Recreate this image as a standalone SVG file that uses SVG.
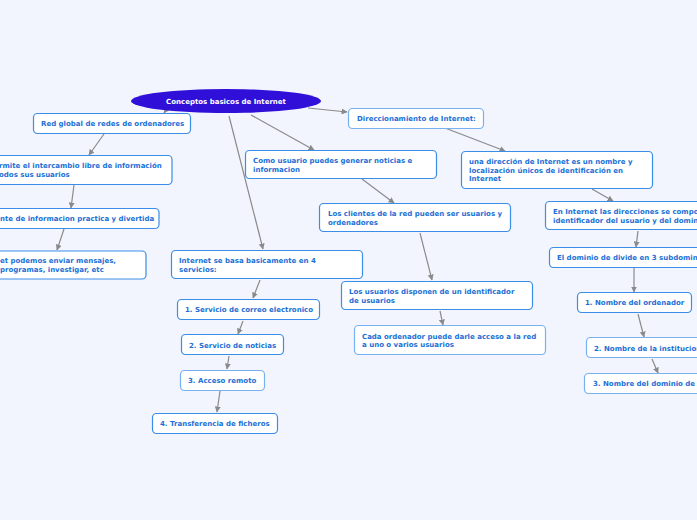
<svg xmlns="http://www.w3.org/2000/svg" width="697" height="520" viewBox="0 0 697 520">
<defs>
<marker id="ah" viewBox="0 0 10 10" refX="9" refY="5" markerWidth="5" markerHeight="5" orient="auto">
<path d="M0,0 L10,5 L0,10 z" fill="#8a8a8a"/>
</marker>
<style>
.n rect{fill:#ffffff;stroke:#3a8ee8;stroke-width:1.2}
.n.l rect{stroke:#78b1f2}
.n text{font-family:"DejaVu Sans",Verdana,sans-serif;font-weight:bold;font-size:7px;fill:#1b6fd6}
#conn line{stroke:#8a8a8a;stroke-width:1.2;marker-end:url(#ah)}
</style>
</defs>
<rect width="697" height="520" fill="#f2f5fd"/>
<g id="conn">
<line x1="166" y1="110" x2="164" y2="113"/>
<line x1="104" y1="134" x2="89" y2="155"/>
<line x1="74" y1="185" x2="71" y2="208"/>
<line x1="64" y1="229" x2="57" y2="250"/>
<line x1="308" y1="108" x2="347" y2="112"/>
<line x1="251" y1="115" x2="314" y2="150"/>
<line x1="229" y1="116" x2="263" y2="249"/>
<line x1="445" y1="128" x2="505" y2="151"/>
<line x1="362" y1="179" x2="394" y2="203"/>
<line x1="592" y1="189" x2="613" y2="201"/>
<line x1="638" y1="231" x2="636" y2="247"/>
<line x1="420" y1="233" x2="432" y2="280"/>
<line x1="440" y1="311" x2="443" y2="325"/>
<line x1="260" y1="280" x2="253" y2="298"/>
<line x1="243" y1="321" x2="238" y2="334"/>
<line x1="229" y1="356" x2="227" y2="369"/>
<line x1="220" y1="391" x2="217" y2="412"/>
<line x1="634" y1="268" x2="634" y2="292"/>
<line x1="638" y1="314" x2="644" y2="337"/>
<line x1="652" y1="359" x2="658" y2="373"/>
</g>
<g id="root">
<ellipse cx="226" cy="101" rx="95" ry="12" fill="#3010d8"/>
<text x="226" y="103.5" text-anchor="middle" style="font-family:'DejaVu Sans',Verdana,sans-serif;font-weight:bold;font-size:7px;fill:#ffffff">Conceptos basicos de Internet</text>
</g>
<g id="n1" class="n"><rect x="33.5" y="113.5" width="157" height="20" rx="4"/><text x="41" y="126">Red global de redes de ordenadores</text></g>
<g id="n2" class="n"><rect x="-20" y="155.5" width="192" height="29" rx="4"/><text x="-1" y="168">rmite el intercambio libre de información</text><text x="-1" y="177">odos sus usuarios</text></g>
<g id="n3" class="n"><rect x="-20" y="208.5" width="179" height="20" rx="4"/><text x="0" y="221">nte de informacion practica y divertida</text></g>
<g id="n4" class="n"><rect x="-20" y="251" width="166" height="28" rx="4"/><text x="0" y="263">et podemos enviar mensajes,</text><text x="0" y="272">programas, investigar, etc</text></g>
<g id="n5" class="n l"><rect x="348.5" y="108.5" width="135" height="20" rx="4"/><text x="357" y="121">Direccionamiento de Internet:</text></g>
<g id="n6" class="n"><rect x="245.5" y="150.5" width="191" height="28" rx="4"/><text x="253" y="163">Como usuario puedes generar noticias e</text><text x="253" y="172">informacion</text></g>
<g id="n7" class="n"><rect x="461.5" y="151.5" width="191" height="37" rx="4"/><text x="469" y="164">una dirección de Internet es un nombre y</text><text x="469" y="172.5">localización únicos de identificación en</text><text x="469" y="181">Internet</text></g>
<g id="n8" class="n"><rect x="319.5" y="203.5" width="191" height="28" rx="4"/><text x="328" y="216">Los clientes de la red pueden ser usuarios y</text><text x="328" y="224.5">ordenadores</text></g>
<g id="n9" class="n"><rect x="545.5" y="201.5" width="180" height="28" rx="4"/><text x="553" y="214">En Internet las direcciones se compo</text><text x="553" y="222.5">identificador del usuario y del domin</text></g>
<g id="n10" class="n"><rect x="549.5" y="247.5" width="180" height="20" rx="4"/><text x="557" y="260">El dominio de divide en 3 subdomin</text></g>
<g id="n11" class="n"><rect x="171.5" y="250.5" width="191" height="28" rx="4"/><text x="179" y="263">Internet se basa basicamente en 4</text><text x="179" y="271.5">servicios:</text></g>
<g id="n12" class="n"><rect x="177.5" y="299.5" width="142" height="20" rx="4"/><text x="185" y="312">1. Servicio de correo electronico</text></g>
<g id="n13" class="n"><rect x="181.5" y="334.5" width="102" height="20" rx="4"/><text x="189" y="347.5">2. Servicio de noticias</text></g>
<g id="n14" class="n l"><rect x="180.5" y="370.5" width="84" height="20" rx="4"/><text x="188" y="383">3. Acceso remoto</text></g>
<g id="n15" class="n"><rect x="152.5" y="413.5" width="125" height="20" rx="4"/><text x="160" y="426">4. Transferencia de ficheros</text></g>
<g id="n16" class="n"><rect x="341.5" y="281.5" width="191" height="28" rx="4"/><text x="349" y="294">Los usuarios disponen de un identificador</text><text x="349" y="302.5">de usuarios</text></g>
<g id="n17" class="n l"><rect x="354.5" y="325.5" width="191" height="29" rx="4"/><text x="362" y="338.5">Cada ordenador puede darle acceso a la red</text><text x="362" y="347">a uno o varios usuarios</text></g>
<g id="n18" class="n"><rect x="577.5" y="292.5" width="114" height="20" rx="4"/><text x="585" y="305">1. Nombre del ordenador</text></g>
<g id="n19" class="n l"><rect x="586.5" y="337.5" width="140" height="20" rx="4"/><text x="594" y="350.5">2. Nombre de la institucion</text></g>
<g id="n20" class="n l"><rect x="584.5" y="373.5" width="140" height="20" rx="4"/><text x="593" y="386">3. Nombre del dominio de</text></g>
</svg>
